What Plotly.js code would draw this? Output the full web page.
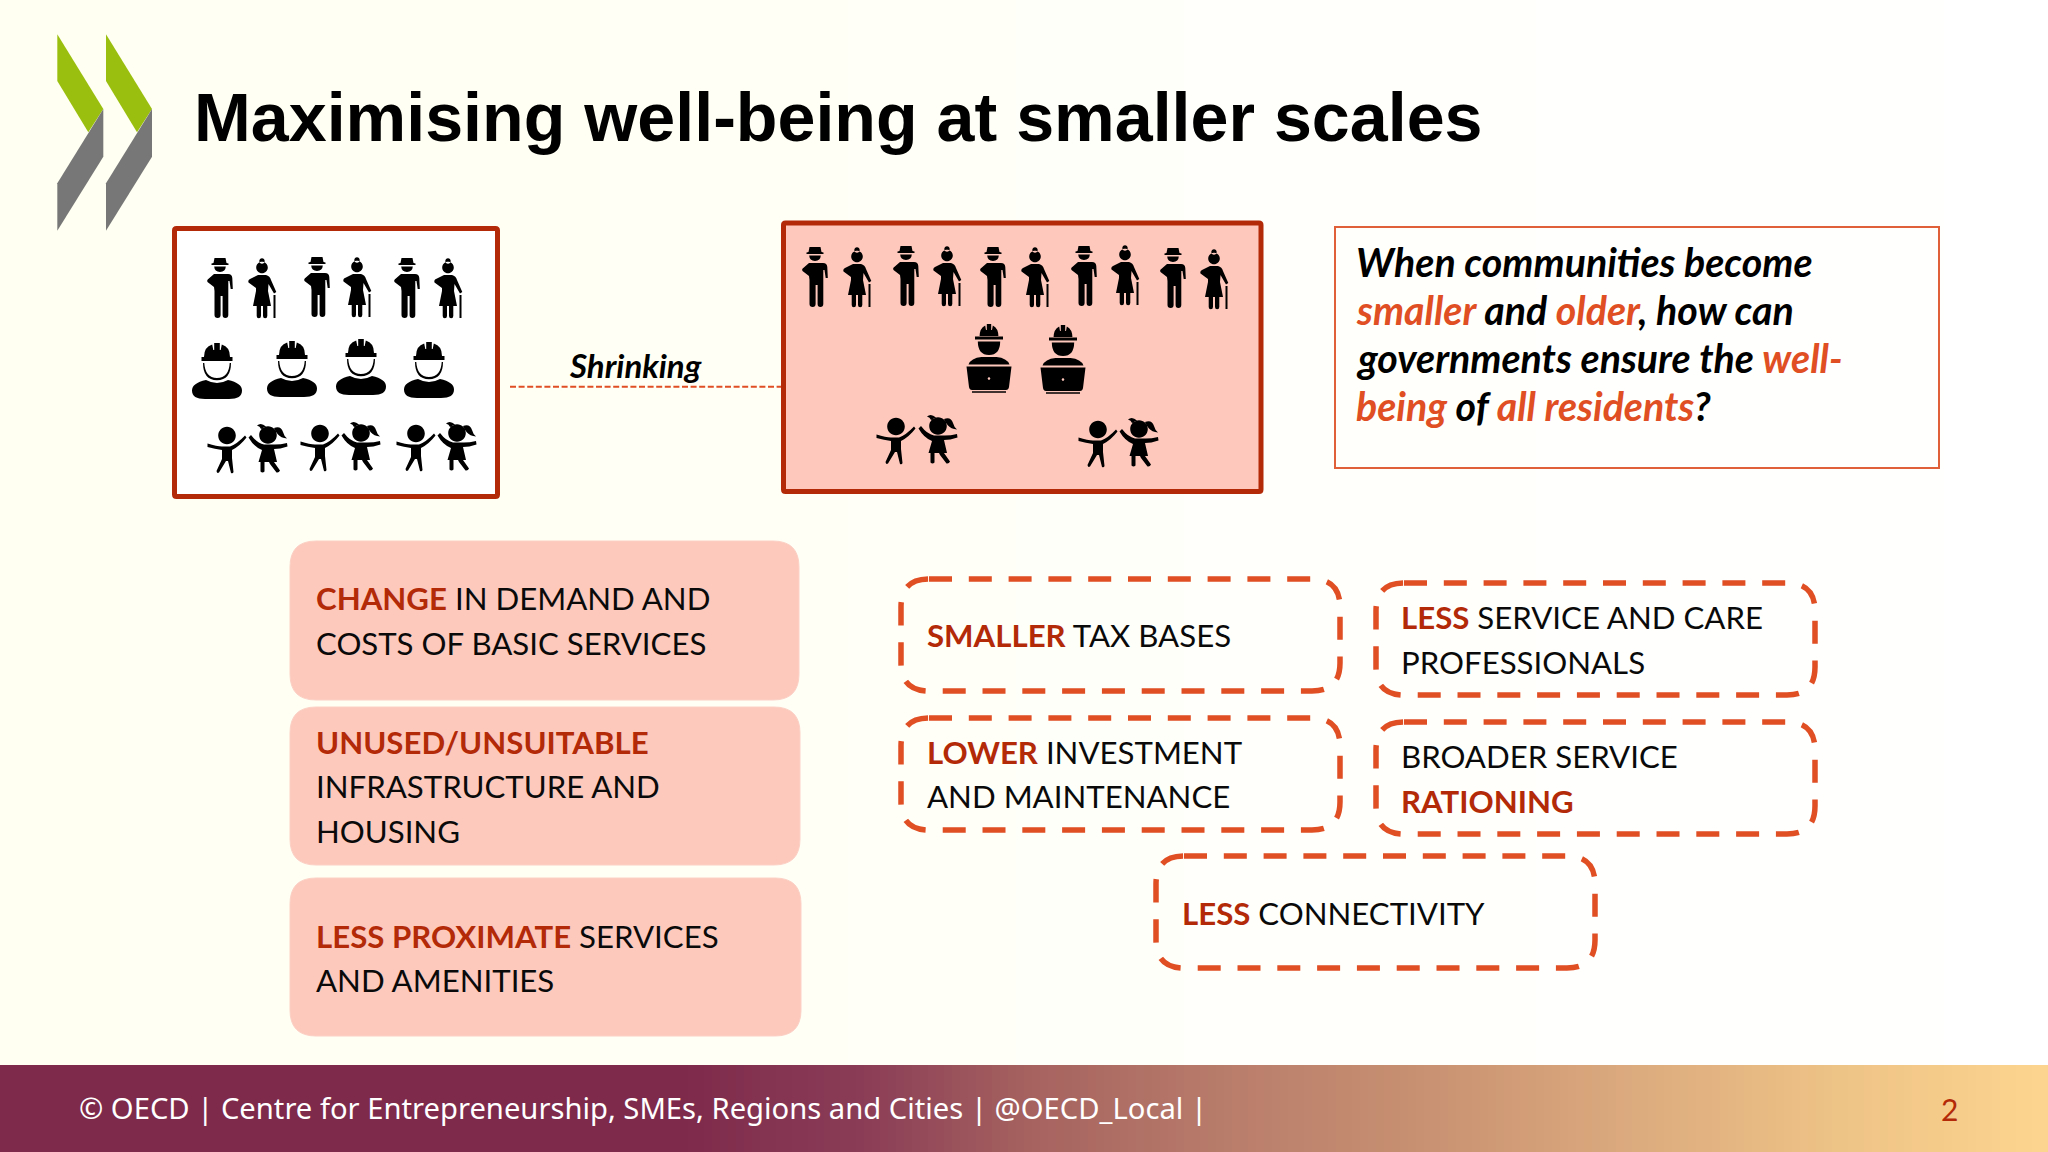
<!DOCTYPE html>
<html><head><meta charset="utf-8">
<script src="https://cdn.plot.ly/plotly-3.0.1.min.js"></script>
<style>html,body{margin:0;padding:0;background:#fff}#c{width:2048px;height:1152px}</style></head>
<body><div id="c"></div>
<script>
var titleText = "Maximising well-being at smaller scales";
var footerText = "© OECD | Centre for Entrepreneurship, SMEs, Regions and Cities | @OECD_Local |";
var pageNumber = "2";
var shrinkLabel = "Shrinking";
var RED = "#b32a08", ORANGE = "#e04e24";

var questionLines = [
  [["When communities become",0]],
  [["smaller",1],[" and ",0],["older",1],[", how can",0]],
  [["governments ensure the ",0],["well-",1]],
  [["being",1],[" of ",0],["all residents",1],["?",0]]
];
var questionY = [261,309,357,405];

var pinkLabels = [
  {y:[597.5,642.5], lines:[[["CHANGE",1],[" IN DEMAND AND",0]],[["COSTS OF BASIC SERVICES",0]]]},
  {y:[741.5,785.5,830.5], lines:[[["UNUSED/UNSUITABLE",1]],[["INFRASTRUCTURE AND",0]],[["HOUSING",0]]]},
  {y:[935.5,979.5], lines:[[["LESS PROXIMATE",1],[" SERVICES",0]],[["AND AMENITIES",0]]]}
];
var dashedLabels = [
  {x:926,y:[635],lines:[[["SMALLER",1],[" TAX BASES",0]]]},
  {x:926,y:[752,796],lines:[[["LOWER",1],[" INVESTMENT",0]],[["AND MAINTENANCE",0]]]},
  {x:1400,y:[617,661.5],lines:[[["LESS",1],[" SERVICE AND CARE",0]],[["PROFESSIONALS",0]]]},
  {x:1400,y:[755.5,800.5],lines:[[["BROADER SERVICE",0]],[["RATIONING",1]]]},
  {x:1181,y:[912.5],lines:[[["LESS",1],[" CONNECTIVITY",0]]]}
];
var pinkBoxes = [[290,541,799,700],[290,707,800,865],[290,878,801,1036]];
var dashedBoxes = [[901,579,1340,691],[901,718,1340,830],[1376,583,1815,695],[1376,722,1815,834],[1156,856,1595,968]];

var footerStops = [[0,"#7e2a4b"],[0.33,"#7e2a4b"],[0.42,"#8a3c56"],[0.5,"#a5615f"],[0.6,"#b97d6b"],[0.7,"#c99272"],[0.8,"#dcab7e"],[0.9,"#eec386"],[1,"#fdd48f"]];
var bgStops = [[0,"#fffff2"],[0.35,"#fffff5"],[0.6,"#fffffb"],[1,"#ffffff"]];

var menL=[[220,258],[317,257],[407,258]], womenL=[[262,258],[357,257],[448,258]];
var workersL=[[217,343],[292,341],[361,339],[429,342]];
var boysL=[[227,427],[320,425],[416,425]], girlsL=[[268,423],[361,421],[457,421]];
var menR=[[815,247],[906,246],[993,247],[1084,246],[1173,248]], womenR=[[857,247],[947,246],[1035,247],[1125,245],[1214,249]];
var laptopR=[[989,324],[1063,325]];
var boysR=[[896,418],[1098,421]], girlsR=[[938,414],[1139,417]];

function rr(x0,y0,x1,y1,r){
  return "M"+(x0+r)+","+y0+" L"+(x1-r)+","+y0+" Q"+x1+","+y0+" "+x1+","+(y0+r)+
   " L"+x1+","+(y1-r)+" Q"+x1+","+y1+" "+(x1-r)+","+y1+" L"+(x0+r)+","+y1+
   " Q"+x0+","+y1+" "+x0+","+(y1-r)+" L"+x0+","+(y0+r)+" Q"+x0+","+y0+" "+(x0+r)+","+y0;
}
function circ(cx,cy,r,ccw){
  var k=0.5523*r, s=ccw?-1:1;
  return [["M",cx,cy-r],["C",cx+s*k,cy-r,cx+s*r,cy-k,cx+s*r,cy],["C",cx+s*r,cy+k,cx+s*k,cy+r,cx,cy+r],
          ["C",cx-s*k,cy+r,cx-s*r,cy+k,cx-s*r,cy],["C",cx-s*r,cy-k,cx-s*k,cy-r,cx,cy-r],["Z"]];
}
function P(str){
  var out=[], re=/([MLQCZ])([^MLQCZ]*)/g, m;
  while((m=re.exec(str))){ var n=m[2].trim()?m[2].trim().split(/[\s,]+/).map(Number):[]; out.push([m[1]].concat(n)); }
  return out;
}
var ICONS = {
 man: [].concat(
  P("M-5.5,0 L5.5,0 L6.5,5 L8.5,5.5 L8.5,7 L-8.5,7 L-8.5,5.5 L-6.5,5 Z"),
  P("M-5.8,8.6 L5.8,8.6 Q5.5,14 0,14 Q-5.5,14 -5.8,8.6 Z"),
  P("M-6,16 L8,16 Q12,16 12.3,20 L12.8,31 L10.7,31 L9.5,23 L8.3,23 L8.3,57 Q8.3,60 5.3,60 Q2.6,60 2.6,57 L2.6,38 L0.6,38 L0.6,57 Q0.6,60 -2.3,60 Q-5.5,60 -5.5,57 L-5.5,33 L-6,29 L-12.5,24 Q-13.3,22.5 -12.3,21.5 Z")),
 woman: [].concat(circ(0,3,2.7),circ(0,9.5,5.8),
  P("M-4,17 L4,17 Q8,18 9,22 L14.3,34 L12,35.5 L6.5,26 L6,33 L9,48 L5.3,48 L5.3,58 Q5.3,60.3 3.2,60.3 Q1,60.3 1,58 L1,48 L-1,48 L-1,58 Q-1,60.3 -3.2,60.3 Q-5.3,60.3 -5.3,58 L-5.3,48 L-9,48 L-6,33 L-6,30 L-13.5,24.5 Q-14.3,22 -12,21 Z"),
  P("M11.5,37 L13.5,37 L13.5,60 L11.5,60 Z")),
 worker: [].concat(
  P("M-13,14 Q-13,4 -4.8,1.6 L-3.7,7 L3.7,7 L4.8,1.6 Q13,4 13,14 Z"),
  P("M-2.8,0 L2.8,0 L2.8,7 L-2.8,7 Z"),
  P("M-15.5,14 L15.5,14 L15.5,18 L-15.5,18 Z"),
  P("M-14,20 Q-14,37 0,37.3 Q14,37 14,20 L12.7,20 Q12,34.6 0,35 Q-12,34.6 -12.7,20 Z"),
  P("M-25,47.5 Q-25,40 -11,37 Q0,43 11,37 Q25,40 25,47.5 Q25,56 12,56 L-12,56 Q-25,56 -25,47.5 Z")),
 laptop: [].concat(
  P("M-9.5,13 Q-9.5,4 -3.8,1.4 L-3,6 L3,6 L3.8,1.4 Q9.5,4 9.5,13 Z"),
  P("M-2.2,0 L2.2,0 L2.2,6 L-2.2,6 Z"),
  P("M-14,12.5 L14,12.5 L14,15.5 L-14,15.5 Z"),
  P("M-11.2,17.5 L11.2,17.5 Q11,31 0,31 Q-11,31 -11.2,17.5 Z"),
  P("M-7.5,33 L7.5,33 Q18,34 20.5,40.5 L-20.5,40.5 Q-18,34 -7.5,33 Z"),
  P("M-22.5,42.5 L22.5,42.5 L20,63 Q19.5,66 17,66 L-17,66 Q-19.5,66 -20,63 Z"),
  circ(0,54.5,1.3,true),
  P("M-17,67.3 L17,67.3 L17,68.7 L-17,68.7 Z")),
 boy: [].concat(circ(0,8.5,8.8),
  P("M-19.5,16.5 Q-10,19.5 -5,19.5 L3,19.5 Q10,17 18,8.5 L19.5,10.5 Q13,19 5,23 L5,31 L6.5,45 Q6,46.8 4,46 L1,34 L-1,34 L-8,45.5 Q-10,46.8 -10.5,44 L-5,32 L-5,23 Q-12,22 -19.5,20 Z")),
 girl: [].concat(circ(0,12,8.8),
  P("M-7,6 Q-8,3 -11,2.5 Q-7,-1 -2,3.5 Z"),
  P("M6,5 Q13,2.5 15,9 Q16,13 19,15.5 Q13,15 9.5,11 Z"),
  P("M-19.5,14.5 L-17,12 Q-11,20 -4,21.5 L4,21.5 Q11,22 19,20 L19.5,23.5 Q12,26 6,26 L9,39 L6,39 L12,47.5 Q11,50 8.5,49.5 L2,41 L1,39 L-3.5,39 L-3.5,48.5 Q-5.5,50.5 -7.5,48.5 L-7.5,39 L-9.5,39 L-6,27 Q-14,24 -19.5,14.5 Z"))
};
function place(cmds,cx,top){
  return cmds.map(function(c){
    var s=c[0]; if(c.length>1){ var a=[]; for(var i=1;i<c.length;i+=2){a.push((c[i]+cx).toFixed(2)+","+(c[i+1]+top).toFixed(2));} s+=a.join(" "); }
    return s;
  }).join(" ");
}
var shapes=[];
var GREEN="#9bbf0e", GREY="#777777";
var logoOffsets=[0,48.7];
logoOffsets.forEach(function(o){
  var p=function(a){return "M"+a.map(function(q){return (q[0]+o)+","+q[1];}).join(" L")+" Z";};
  shapes.push({type:"path",path:p([[57.3,34.3],[103.3,109],[88.3,132.3],[57.3,81]]),fillcolor:GREEN,line:{width:0}});
  shapes.push({type:"path",path:p([[103.3,109],[103.3,156.7],[57.3,230.7],[57.3,183.3]]),fillcolor:GREY,line:{width:0}});
});
shapes.push({type:"path",path:rr(174.5,228.5,497.5,496.5,2)+" Z",fillcolor:"#ffffff",line:{color:RED,width:5}});
shapes.push({type:"path",path:rr(783.5,223,1261,491.5,2)+" Z",fillcolor:"#ffc8bd",line:{color:RED,width:5}});
shapes.push({type:"line",x0:510,x1:781,y0:386.7,y1:386.7,line:{color:ORANGE,width:2,dash:"6px,2.6px"}});
shapes.push({type:"rect",x0:1335,y0:227,x1:1939,y1:468,fillcolor:"rgba(255,255,255,0)",line:{color:"#e0603a",width:2}});
pinkBoxes.forEach(function(b){
  shapes.push({type:"path",path:rr(b[0],b[1],b[2],b[3],26)+" Z",fillcolor:"#fdc9bd",line:{color:"#fcd0c5",width:1}});
});
dashedBoxes.forEach(function(b){
  shapes.push({type:"path",path:rr(b[0],b[1],b[2],b[3],28),fillcolor:"rgba(255,255,255,0)",line:{color:"#e04e24",width:5.5,dash:"23px,16.8px"}});
});
function addIcons(list,name){ list.forEach(function(p){
  shapes.push({type:"path",path:place(ICONS[name],p[0],p[1]),fillcolor:"#000000",line:{width:0}});
});}
addIcons(menL,"man");addIcons(womenL,"woman");addIcons(workersL,"worker");addIcons(boysL,"boy");addIcons(girlsL,"girl");
addIcons(menR,"man");addIcons(womenR,"woman");addIcons(laptopR,"laptop");addIcons(boysR,"boy");addIcons(girlsR,"girl");

var BODY="Lato, sans-serif", BSIZE=31.2;
var ann=[];
function rich(segs,acc,ital){
  return segs.map(function(s){
    if(ital){ return s[1]?'<span style="color:'+ORANGE+'">'+s[0]+'</span>':s[0]; }
    return s[1]?'<b><span style="color:'+RED+'">'+s[0]+'</span></b>':s[0];
  }).join("");
}
function T(x,y,text,font,anchor){
  ann.push({x:x,y:y,xref:"x",yref:"y",text:text,showarrow:false,xanchor:anchor||"left",yanchor:"middle",align:"left",borderpad:0,font:font});
}
T(193,117,"<b>"+titleText+"</b>",{family:"Liberation Sans, Arial, sans-serif",size:68.2,color:"#000"});
T(568,365,"<b><i>"+shrinkLabel+"</i></b>",{family:BODY,size:33,color:"#000"});
questionLines.forEach(function(l,i){ T(1355,questionY[i],"<b><i>"+rich(l,true,true)+"</i></b>",{family:BODY,size:39.3,color:"#000"}); });
pinkLabels.forEach(function(g){ g.lines.forEach(function(l,i){ T(315,g.y[i],rich(l),{family:BODY,size:BSIZE,color:"#0a0a0a"}); }); });
dashedLabels.forEach(function(g){ g.lines.forEach(function(l,i){ T(g.x,g.y[i],rich(l),{family:BODY,size:BSIZE,color:"#0a0a0a"}); }); });
T(78,1108,footerText,{family:"Noto Sans, sans-serif",size:29.2,color:"#ffffff"});
T(1949,1109,pageNumber,{family:BODY,size:30,color:RED},"center");

function ramp(n){var a=[];for(var i=0;i<n;i++)a.push(i/(n-1));return a;}
var traces=[
 {type:"heatmap",z:[ramp(256)],x0:4,dx:8,y:[0,1152],colorscale:bgStops,zmin:0,zmax:1,showscale:false,hoverinfo:"skip",zsmooth:false},
 {type:"heatmap",z:[ramp(256)],x0:4,dx:8,y:[1065,1152],colorscale:footerStops,zmin:0,zmax:1,showscale:false,hoverinfo:"skip",zsmooth:false}
];
var layout={width:2048,height:1152,margin:{l:0,r:0,t:0,b:0,pad:0},paper_bgcolor:"#ffffff",plot_bgcolor:"#ffffff",
 xaxis:{range:[0,2048],visible:false,fixedrange:true},yaxis:{range:[1152,0],visible:false,fixedrange:true},
 showlegend:false,shapes:shapes.map(function(s){s.layer="above";s.xref="x";s.yref="y";return s;}),annotations:ann};
Plotly.newPlot("c",traces,layout,{displayModeBar:false,staticPlot:true});
</script></body></html>
